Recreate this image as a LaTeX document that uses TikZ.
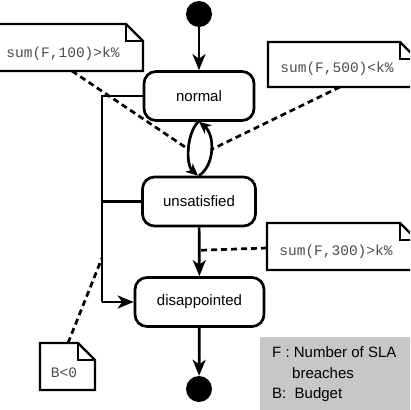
\documentclass[tikz,border=0pt]{standalone}
\usepackage{fontspec}
\setmainfont{Liberation Sans}
\setmonofont{Liberation Mono}
\usetikzlibrary{arrows.meta}
\newcommand{\drawnote}[4]{% x1 y1 x2 y2
  \draw[notebox] (#1,#2) -- ({#3-17},#2) -- (#3,{#2+17}) -- (#3,#4) -- (#1,#4) -- cycle;
  \draw[notebox] ({#3-17},#2) -- ({#3-17},{#2+17}) -- (#3,{#2+17});
}
\begin{document}
\begin{tikzpicture}[x=1pt,y=-1pt,
  statebox/.style={draw, line width=2.7pt, rounded corners=12pt, minimum height=49pt, inner sep=0pt, font=\fontsize{15}{18}\selectfont},
  dot/.style={circle, fill=black, minimum size=26pt, inner sep=0pt},
  conn/.style={line width=2.7pt},
  arr/.style={conn, -{Stealth[length=16pt, width=13pt, inset=4.5pt]}},
  arrs/.style={conn, -{Stealth[length=12pt, width=11pt, inset=3.5pt]}},
  notebox/.style={line width=2.4pt, line join=miter},
  notetext/.style={font=\ttfamily\fontsize{14.5}{17}\selectfont, text=black!70, inner sep=0pt},
  dashline/.style={line width=2.7pt, dash pattern=on 6pt off 4pt},
  legtext/.style={font=\fontsize{15}{18}\selectfont, anchor=west, inner sep=0pt},
]
\useasboundingbox (0,0) rectangle (410,410);
\begin{scope}
\clip (0,0) rectangle (410,410);
% legend background
\fill[black!22] (260,337) rectangle (420,420);
\node[legtext] (leg1) at (272,352) {F : Number of SLA};
\node[legtext] (leg2) at (292,373) {breaches};
\node[legtext] (leg3) at (272,395) {B:\ \ Budget};

% states
\node[dot] (init) at (199,14) {};
\node[statebox, minimum width=110pt] (normal) at (199,96) {normal};
\node[statebox, minimum width=113pt] (unsat) at (199,201.5) {unsatisfied};
\node[statebox, minimum width=129pt] (dis) at (199.5,302) {disappointed};
\node[dot] (fin) at (199,389) {};

% connectors
\draw[arr] (init) -- (normal);
\draw[arr] (unsat) -- coordinate[pos=0.47] (mD) (dis);
\draw[arr] (dis) -- (fin);
\draw[arrs] ([xshift=-1pt]normal.south) .. controls (186,135) and (186,165) .. coordinate[pos=0.5] (mL) ([xshift=-1pt]unsat.north);
\draw[arrs] (unsat.north) .. controls (215,165) and (215,135) .. coordinate[pos=0.5] (mR) (normal.south);

\coordinate (c1) at (102,96);
\coordinate (c2) at (102,302);
\coordinate (c3) at (102,258);
\draw[conn, line join=miter] (normal.west) -- (c1) -- (c2);
\draw[arr] (c2) -- (dis.west);
\draw[conn] (unsat.west) -- (unsat.west -| c1);

% notes
\drawnote{-5}{24}{143}{71}
\node[notetext] (n1) at (63,54) {sum(F,100)>k\%};
\coordinate (n1b) at (72,71);
\drawnote{268}{42}{417}{87}
\node[notetext] (n2) at (337,69) {sum(F,500)<k\%};
\coordinate (n2b) at (340,87);
\drawnote{267}{223}{417}{270}
\node[notetext] (n3) at (336,252) {sum(F,300)>k\%};
\coordinate (n3b) at (267,248);
\drawnote{40}{343}{95}{390}
\node[notetext] (n4) at (64,373) {B<0};
\coordinate (n4b) at (68,343);

\draw[dashline] (n1b) -- (mL);
\draw[dashline] (n2b) -- (mR);
\draw[dashline] (n3b) -- (mD);
\draw[dashline] (n4b) -- (c3);
\end{scope}
\end{tikzpicture}
\end{document}
